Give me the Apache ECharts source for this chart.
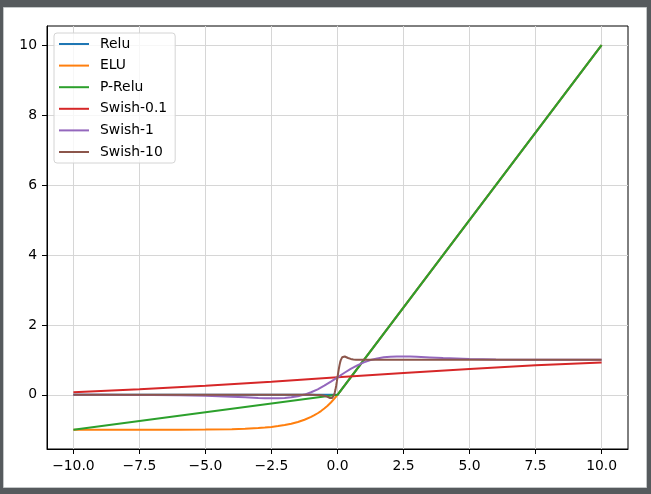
<!DOCTYPE html>
<html><head><meta charset="utf-8">
<script src="https://cdn.jsdelivr.net/npm/echarts@6/dist/echarts.min.js"></script>
<style>html,body{margin:0;padding:0;background:#565a5d;}#c{width:651px;height:494px;}</style>
</head><body><div id="c"></div>
<script>
const seriesNames = ['Relu','ELU','P-Relu','Swish-0.1','Swish-1','Swish-10'];
const xTicks = [-10,-7.5,-5,-2.5,0,2.5,5,7.5,10];
const yTicks = [0,2,4,6,8,10];

const reluX = [-10,0,10];
const reluY = [0,0,10];
const eluX = [-10,-8,-7,-6,-5,-4,-3.5,-3,-2.75,-2.5,-2.25,-2,-1.75,-1.5,-1.25,-1,-0.875,-0.75,-0.625,-0.5,-0.375,-0.25,-0.125,0,10];
const eluY = [-1.0,-0.9997,-0.9991,-0.9975,-0.9933,-0.9817,-0.9698,-0.9502,-0.9361,-0.9179,-0.8946,-0.8647,-0.8262,-0.7769,-0.7135,-0.6321,-0.5831,-0.5276,-0.4647,-0.3935,-0.3127,-0.2212,-0.1175,0,10];
const preluX = [-10,0,10];
const preluY = [-1,0,10];
const sw01X = [-10,-7.5,-5,-2.5,0,2.5,5,7.5,10];
const sw01Y = [0.0723,0.1574,0.2600,0.3763,0.5,0.6237,0.7400,0.8426,0.9277];
const sw1X = [-10,-9,-8,-7,-6,-5,-4,-3.5,-3,-2.75,-2.5,-2.25,-2,-1.75,-1.5,-1.25,-1,-0.75,-0.5,-0.25,0,0.25,0.5,0.75,1,1.25,1.5,1.75,2,2.25,2.5,2.75,3,3.5,4,5,6,7,8,9,10];
const sw1Y = [-0.0004,-0.0010,-0.0024,-0.0055,-0.0123,-0.0265,-0.0527,-0.0703,-0.0881,-0.0952,-0.0994,-0.0987,-0.0908,-0.0727,-0.0413,0.0063,0.0723,0.1574,0.2600,0.3763,0.5,0.6237,0.7400,0.8426,0.9277,0.9937,1.0413,1.0727,1.0908,1.0987,1.0994,1.0952,1.0881,1.0703,1.0527,1.0265,1.0123,1.0055,1.0024,1.0010,1.0004];
const sw10X = [-10,-1,-0.8,-0.7,-0.6,-0.5,-0.4,-0.35,-0.3,-0.275,-0.25,-0.225,-0.2,-0.175,-0.15,-0.125,-0.1,-0.075,-0.05,-0.025,0,0.025,0.05,0.075,0.1,0.125,0.15,0.175,0.2,0.225,0.25,0.275,0.3,0.35,0.4,0.5,0.6,0.7,0.8,1,10];
const sw10Y = [0,-0.0004,-0.0024,-0.0055,-0.0123,-0.0265,-0.0527,-0.0703,-0.0881,-0.0952,-0.0994,-0.0987,-0.0908,-0.0727,-0.0413,0.0063,0.0723,0.1574,0.2600,0.3763,0.5,0.6237,0.7400,0.8426,0.9277,0.9937,1.0413,1.0727,1.0908,1.0987,1.0994,1.0952,1.0881,1.0703,1.0527,1.0265,1.0123,1.0055,1.0024,1.0004,1.0];

const colors = ['#1f77b4','#ff7f0e','#2ca02c','#d62728','#9467bd','#8c564b'];
const allX = [reluX,eluX,preluX,sw01X,sw1X,sw10X];
const allY = [reluY,eluY,preluY,sw01Y,sw1Y,sw10Y];
const pair = (xs,ys)=>xs.map((x,i)=>[x,ys[i]]);
const fmtMinus = s => String(s).replace('-','\u2212');
const font = 'DejaVu Sans';

const chart = echarts.init(document.getElementById('c'), null, {renderer:'canvas'});
chart.setOption({
  backgroundColor:'#565a5d',
  animation:false,
  color:colors,
  graphic:[{type:'rect',shape:{x:3.5,y:7.5,width:643,height:480},style:{fill:'#ffffff',stroke:'#c4c7c8',lineWidth:1},z:-10,silent:true}],
  grid:{left:47,right:23,top:26,bottom:45,show:true,borderColor:'#000',borderWidth:1,backgroundColor:'transparent'},
  legend:{
    orient:'vertical',left:54,top:33,
    data:seriesNames,
    icon:'rect',itemWidth:30,itemHeight:2,itemGap:7.6,
    padding:[4,8,4,5],
    backgroundColor:'rgba(255,255,255,0.8)',borderColor:'#d4d4d4',borderWidth:1,borderRadius:3,
    textStyle:{fontFamily:font,fontSize:13.9,color:'#000',padding:[0,0,0,6]}
  },
  xAxis:{type:'value',min:-11,max:11,
    axisLine:{show:true,onZero:false,lineStyle:{color:'#000',width:1}},
    axisTick:{show:true,customValues:xTicks,length:5,lineStyle:{color:'#000'}},
    axisLabel:{customValues:xTicks,margin:10,fontFamily:font,fontSize:13.9,color:'#000',formatter:v=>fmtMinus(v.toFixed(1))},
    splitLine:{show:true,lineStyle:{color:'#d6d6d6',width:1}}
  },
  yAxis:{type:'value',min:-1.55,max:10.55,
    axisLine:{show:true,onZero:false,lineStyle:{color:'#000',width:1}},
    axisTick:{show:true,customValues:yTicks,length:5,lineStyle:{color:'#000'}},
    axisLabel:{customValues:yTicks,margin:10,fontFamily:font,fontSize:13.9,color:'#000',formatter:v=>fmtMinus(v)},
    splitLine:{show:true,lineStyle:{color:'#d6d6d6',width:1}}
  },
  series:seriesNames.map((n,i)=>({name:n,type:'line',data:pair(allX[i],allY[i]),showSymbol:false,symbol:'none',lineStyle:{width:2,color:colors[i]},itemStyle:{color:colors[i]}}))
});
</script></body></html>
